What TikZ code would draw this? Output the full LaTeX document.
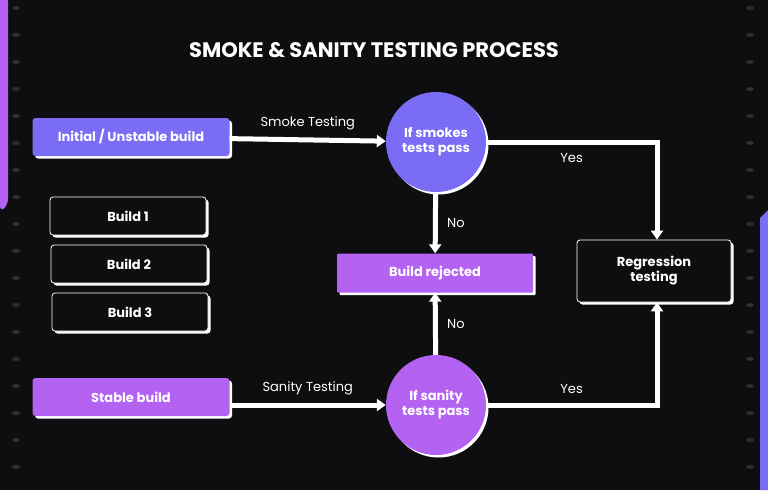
\documentclass[tikz,border=0pt]{standalone}
\usepackage{fontspec}
\setmainfont{Poppins}
\usetikzlibrary{positioning,arrows.meta,shadows}
\definecolor{bgdark}{HTML}{0E0E10}
\definecolor{periwinkle}{HTML}{7B6CF6}
\definecolor{orchid}{HTML}{B462F2}
\definecolor{dotgray}{HTML}{2E2E33}
\tikzset{
  >={Triangle[length=9pt,width=12pt]},
  flow/.style={draw=white, line width=5pt, ->},
  box/.style={rectangle, rounded corners=3pt, minimum height=38pt, text=white,
    font=\fontsize{13}{15}\selectfont\bfseries,
    general shadow={fill=white, shadow xshift=2.5pt, shadow yshift=-2.5pt}},
  buildbox/.style={box, fill=bgdark, draw=white, line width=0.8pt, minimum width=156pt},
  decision/.style={circle, minimum size=100pt, text=white, align=center,
    font=\fontsize{13}{15}\selectfont\bfseries,
    general shadow={fill=white, shadow xshift=2.5pt, shadow yshift=-2.5pt}},
  lbl/.style={text=white, font=\fontsize{13}{15}\selectfont},
}
\begin{document}
\begin{tikzpicture}[x=1pt, y=-1pt]
    \fill[bgdark] (0,0) rectangle (768,490);
    \useasboundingbox (0,0) rectangle (768,490);
    % side bars
    \fill[orchid] (0,0) -- (8,0) -- (8,195) [rounded corners=6pt] -- (8,205) -- (0,212) [sharp corners] -- cycle;
    \fill[periwinkle] (768,210) -- (760,218) -- (760,490) -- (768,490) -- cycle;
    % dots
    \foreach \i in {0,...,17} {
        \fill[dotgray] (16,8+27*\i) ellipse (4pt and 2pt);
        \fill[dotgray] (750,8+27*\i) ellipse (4pt and 2pt);
    }

    \node[text=white, font=\fontsize{21}{24}\selectfont\bfseries] (title) at (374,50) {SMOKE \& SANITY TESTING PROCESS};

    \node[box, fill=periwinkle, minimum width=197pt] (initial) at (131,137) {Initial / Unstable build};
    \node[buildbox] (b1) at (128,216) {Build 1};
    \node[buildbox] (b2) at (129,264) {Build 2};
    \node[buildbox] (b3) at (130,312) {Build 3};
    \node[box, fill=orchid, minimum width=197pt] (stable) at (131,397) {Stable build};

    \node[decision, fill=periwinkle] (smoke) at (436,142) {If smokes\\tests pass};
    \node[decision, fill=orchid] (sanity) at (436,405) {If sanity\\tests pass};
    \node[box, fill=orchid, minimum width=196pt, minimum height=39pt, rounded corners=1pt] (rejected) at (435,273) {Build rejected};
    \node[box, fill=bgdark, draw=white, line width=0.8pt, minimum width=154pt, minimum height=62pt, align=center] (regress) at (654,271) {Regression\\testing};

    \draw[flow] (initial) -- node[lbl, above=4pt] {Smoke Testing} (smoke);
    \draw[flow] (stable.east |- sanity) -- node[lbl, above=4pt] {Sanity Testing} (sanity);
    \draw[flow] (smoke) -- node[lbl, right=6pt] {No} (rejected);
    \draw[flow] (sanity) -- node[lbl, right=6pt] {No} (rejected);
    \draw[flow] (smoke.east) -- node[lbl, below=6pt] {Yes} (657,142) -- (regress.north -| 657,0);
    \draw[flow] (sanity.east) -- node[lbl, above=6pt] {Yes} (657,405) -- (regress.south -| 657,0);
\end{tikzpicture}
\end{document}
